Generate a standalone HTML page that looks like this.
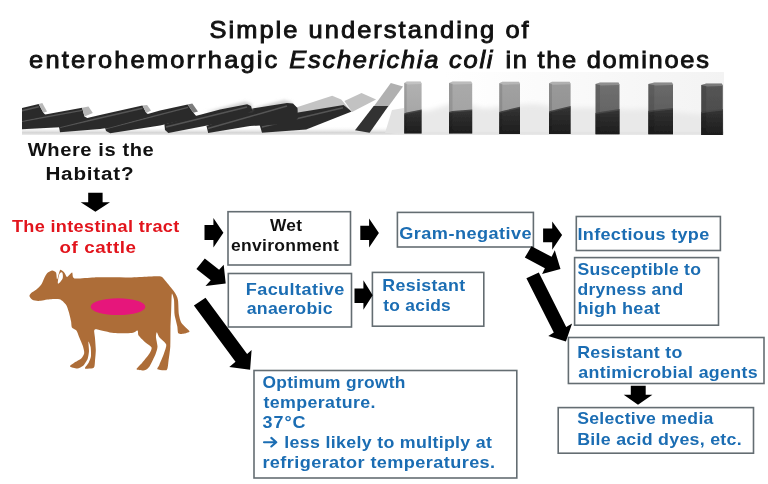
<!DOCTYPE html>
<html><head><meta charset="utf-8">
<style>
html,body{margin:0;padding:0;background:#fff;width:768px;height:484px;overflow:hidden}
svg{position:absolute;left:0;top:0}
text{font-family:"Liberation Sans",sans-serif;font-weight:bold}
svg{will-change:transform}
.bx{fill:#fff;stroke:#646d72;stroke-width:1.6}
</style></head>
<body>
<svg width="768" height="484" viewBox="0 0 768 484">
<defs><clipPath id="pc"><rect x="22" y="70" width="702" height="65"/></clipPath><filter id="bl" x="-5%" y="-20%" width="110%" height="140%"><feGaussianBlur stdDeviation="0.6"/></filter><filter id="bl2" x="-20%" y="-50%" width="140%" height="200%"><feGaussianBlur stdDeviation="1.4"/></filter><filter id="bl3" x="-20%" y="-50%" width="140%" height="200%"><feGaussianBlur stdDeviation="2.5"/></filter><linearGradient id="gnd" x1="0" y1="0" x2="0" y2="1"><stop offset="0" stop-color="#fff" stop-opacity="0"/><stop offset="0.75" stop-color="#d4d4d4"/><stop offset="1" stop-color="#ececec"/></linearGradient></defs>
<g clip-path="url(#pc)">
<linearGradient id="bgg" x1="0" y1="0" x2="1" y2="0"><stop offset="0" stop-color="#fff"/><stop offset="0.6" stop-color="#fff"/><stop offset="1" stop-color="#f3f3f3"/></linearGradient><rect x="22" y="72" width="702" height="63" fill="url(#bgg)"/>
<rect x="22" y="126" width="702" height="9" fill="url(#gnd)" filter="url(#bl)"/>
<g filter="url(#bl3)" fill="#e9e9e9"><path d="M392,134 L395,116 C405,112 418,110 425,111 C435,110 440,106 452,104 C470,102 480,110 490,108 C505,106 520,104 535,104 C545,104 552,108 560,108 C575,108 590,107 600,108 C615,109 630,110 645,109 C660,108 670,112 685,113 C700,114 712,116 724,118 L724,134 Z"/></g>
<g filter="url(#bl)">
<polygon points="293,108.4 332.2,95.8 341.2,99.4 350.1,110 300,115" fill="#c4c4c4"/>
<polygon points="259.6,124.7 298.0,112.4 343.6,105.1 351.7,111.6 306.2,129.5 262.0,132.8" fill="#2b2b2b" />
<line x1="262.0" y1="127.0" x2="343.0" y2="107.8" stroke="#555555" stroke-width="1.4"/>
<polygon points="250,109 284,100 292,102 292,108" fill="#d0d0d0" filter="url(#bl2)"/>
<polygon points="206.5,125.9 252.2,108.5 287.0,103.0 293.0,103.5 297.5,108.0 298.0,118.0 294.0,123.5 250.0,126.0 208.2,133.0" fill="#2b2b2b" />
<line x1="208.0" y1="128.5" x2="287.0" y2="106.0" stroke="#555555" stroke-width="1.4"/>
<polygon points="205,112 245,101.5 252,104 252,110" fill="#d3d3d3" filter="url(#bl2)"/>
<polygon points="164.4,124.2 220.0,109.4 247.2,104.2 251.0,106.0 252.5,111.0 220.0,123.0 168.4,133.0 165.0,130.0" fill="#2b2b2b" />
<line x1="166.0" y1="127.0" x2="247.0" y2="107.0" stroke="#555555" stroke-width="1.4"/>
<polygon points="104.7,126.3 160.0,110.6 187.6,104.6 193.4,112.8 197.0,117.0 160.0,125.5 110.2,133.3 106.0,131.0" fill="#2b2b2b" />
<polygon points="187.6,104.6 192.3,103.4 198.0,111.6 193.4,112.8" fill="#7c7c7c" />
<line x1="106.0" y1="128.6" x2="188.0" y2="107.4" stroke="#555555" stroke-width="1.4"/>
<polygon points="58.6,124.7 100.0,114.9 142.4,105.5 146.3,112.9 151.0,116.0 110.0,127.5 100.0,129.0 60.0,132.2" fill="#2b2b2b" />
<polygon points="142.4,105.5 147.1,105.1 151.0,110.6 146.3,112.9" fill="#b4b4b4" />
<line x1="60.0" y1="127.2" x2="142.5" y2="108.2" stroke="#555555" stroke-width="1.4"/>
<polygon points="22.0,118.7 82.1,107.7 84.5,116.4 90.0,119.5 60.0,127.2 22.0,129.2" fill="#2b2b2b" />
<polygon points="82.1,107.7 88.5,106.6 92.8,112.9 84.5,116.4" fill="#b6b6b6" />
<line x1="22.0" y1="121.4" x2="82.0" y2="110.4" stroke="#555555" stroke-width="1.4"/>
<polygon points="22.0,108.1 38.7,104.1 43.4,112.8 46.0,115.5 22.0,121.0" fill="#2b2b2b" />
<polygon points="38.7,104.1 42.3,103.0 47.0,111.6 43.4,112.8" fill="#b8b8b8" />
<line x1="22.0" y1="110.8" x2="38.8" y2="106.8" stroke="#555555" stroke-width="1.4"/>
</g>
<g filter="url(#bl)"><polygon points="344.4,101.0 361.5,92.9 376.1,99.4 352.0,112.0" fill="#c2c2c2" /><polygon points="373.7,106.5 390.8,83.1 403.0,86.4 388.4,106.5" fill="#b0b0b0" /><polygon points="392.0,110.0 404.0,108.0 404.0,133.0 385.0,133.0" fill="#e2e2e2" /></g>
<g filter="url(#bl)"><polygon points="355.0,130.3 373.7,105.9 388.4,105.9 369.6,132.8" fill="#303030" /></g>
<defs><linearGradient id="ug0" x1="0" y1="0" x2="0" y2="1"><stop offset="0" stop-color="#b2b2b2"/><stop offset="1" stop-color="#9e9e9e"/></linearGradient><linearGradient id="ug1" x1="0" y1="0" x2="0" y2="1"><stop offset="0" stop-color="#aaaaaa"/><stop offset="1" stop-color="#a0a0a0"/></linearGradient><linearGradient id="ug2" x1="0" y1="0" x2="0" y2="1"><stop offset="0" stop-color="#a2a2a2"/><stop offset="1" stop-color="#959595"/></linearGradient><linearGradient id="ug3" x1="0" y1="0" x2="0" y2="1"><stop offset="0" stop-color="#9a9a9a"/><stop offset="1" stop-color="#8e8e8e"/></linearGradient><linearGradient id="ug4" x1="0" y1="0" x2="0" y2="1"><stop offset="0" stop-color="#707070"/><stop offset="1" stop-color="#5c5c5c"/></linearGradient><linearGradient id="ug5" x1="0" y1="0" x2="0" y2="1"><stop offset="0" stop-color="#6a6a6a"/><stop offset="1" stop-color="#565656"/></linearGradient><linearGradient id="ug6" x1="0" y1="0" x2="0" y2="1"><stop offset="0" stop-color="#555555"/><stop offset="1" stop-color="#474747"/></linearGradient><linearGradient id="dk" x1="0" y1="0" x2="0" y2="1"><stop offset="0" stop-color="#343434"/><stop offset="1" stop-color="#1d1d1d"/></linearGradient></defs>
<g filter="url(#bl)">
<polygon points="404.2,83.1 406.7,81.6 420.6,81.6 421.6,83.6 421.6,133.6 404.2,133.6" fill="url(#ug0)" />
<polygon points="404.2,113.6 406.7,112.6 421.6,109.5 421.6,133.6 404.2,133.6" fill="url(#dk)" />
<polygon points="404.2,83.1 406.7,83.6 406.7,133.6 404.2,133.6" fill="#000000" fill-opacity="0.10"/>
<polygon points="404.2,83.1 406.7,81.6 420.6,81.6 421.6,84.1 407.7,84.6" fill="#ffffff" fill-opacity="0.22"/>
<polygon points="404.2,113.6 406.7,112.6 421.6,109.5 421.6,111.0 406.7,114.1 404.2,115.1" fill="#ffffff" fill-opacity="0.10"/>
<polygon points="449.0,83.1 452.5,81.6 471.2,81.6 472.2,83.6 472.2,133.6 449.0,133.6" fill="url(#ug1)" />
<polygon points="449.0,112.0 452.5,111.0 472.2,109.5 472.2,133.6 449.0,133.6" fill="url(#dk)" />
<polygon points="449.0,83.1 452.5,83.6 452.5,133.6 449.0,133.6" fill="#000000" fill-opacity="0.10"/>
<polygon points="449.0,83.1 452.5,81.6 471.2,81.6 472.2,84.1 453.5,84.6" fill="#ffffff" fill-opacity="0.22"/>
<polygon points="449.0,112.0 452.5,111.0 472.2,109.5 472.2,111.0 452.5,112.5 449.0,113.5" fill="#ffffff" fill-opacity="0.10"/>
<polygon points="499.2,83.2 502.2,81.7 519.0,81.7 520.0,83.7 520.0,134.0 499.2,134.0" fill="url(#ug2)" />
<polygon points="499.2,112.0 502.2,111.0 520.0,106.7 520.0,134.0 499.2,134.0" fill="url(#dk)" />
<polygon points="499.2,83.2 502.2,83.7 502.2,134.0 499.2,134.0" fill="#000000" fill-opacity="0.10"/>
<polygon points="499.2,83.2 502.2,81.7 519.0,81.7 520.0,84.2 503.2,84.7" fill="#ffffff" fill-opacity="0.22"/>
<polygon points="499.2,112.0 502.2,111.0 520.0,106.7 520.0,108.2 502.2,112.5 499.2,113.5" fill="#ffffff" fill-opacity="0.10"/>
<polygon points="549.0,83.2 552.0,81.7 569.6,81.7 570.6,83.7 570.6,134.0 549.0,134.0" fill="url(#ug3)" />
<polygon points="549.0,111.6 552.0,110.6 570.6,106.0 570.6,134.0 549.0,134.0" fill="url(#dk)" />
<polygon points="549.0,83.2 552.0,83.7 552.0,134.0 549.0,134.0" fill="#000000" fill-opacity="0.10"/>
<polygon points="549.0,83.2 552.0,81.7 569.6,81.7 570.6,84.2 553.0,84.7" fill="#ffffff" fill-opacity="0.22"/>
<polygon points="549.0,111.6 552.0,110.6 570.6,106.0 570.6,107.5 552.0,112.1 549.0,113.1" fill="#ffffff" fill-opacity="0.10"/>
<polygon points="595.5,84.0 600.0,82.5 618.5,82.5 619.5,84.5 619.5,134.2 595.5,134.2" fill="url(#ug4)" />
<polygon points="595.5,113.0 600.0,112.0 619.5,109.0 619.5,134.2 595.5,134.2" fill="url(#dk)" />
<polygon points="595.5,84.0 600.0,84.5 600.0,134.2 595.5,134.2" fill="#000000" fill-opacity="0.10"/>
<polygon points="595.5,84.0 600.0,82.5 618.5,82.5 619.5,85.0 601.0,85.5" fill="#ffffff" fill-opacity="0.22"/>
<polygon points="595.5,113.0 600.0,112.0 619.5,109.0 619.5,110.5 600.0,113.5 595.5,114.5" fill="#ffffff" fill-opacity="0.10"/>
<polygon points="648.3,84.0 654.3,82.5 672.0,82.5 673.0,84.5 673.0,134.2 648.3,134.2" fill="url(#ug5)" />
<polygon points="648.3,111.0 654.3,110.0 673.0,108.0 673.0,134.2 648.3,134.2" fill="url(#dk)" />
<polygon points="648.3,84.0 654.3,84.5 654.3,134.2 648.3,134.2" fill="#000000" fill-opacity="0.10"/>
<polygon points="648.3,84.0 654.3,82.5 672.0,82.5 673.0,85.0 655.3,85.5" fill="#ffffff" fill-opacity="0.22"/>
<polygon points="648.3,111.0 654.3,110.0 673.0,108.0 673.0,109.5 654.3,111.5 648.3,112.5" fill="#ffffff" fill-opacity="0.10"/>
<polygon points="701.2,85.0 706.2,83.5 721.8,83.5 722.8,85.5 722.8,135.0 701.2,135.0" fill="url(#ug6)" />
<polygon points="701.2,112.0 706.2,111.0 722.8,109.0 722.8,135.0 701.2,135.0" fill="url(#dk)" />
<polygon points="701.2,85.0 706.2,85.5 706.2,135.0 701.2,135.0" fill="#000000" fill-opacity="0.10"/>
<polygon points="701.2,85.0 706.2,83.5 721.8,83.5 722.8,86.0 707.2,86.5" fill="#ffffff" fill-opacity="0.22"/>
<polygon points="701.2,112.0 706.2,111.0 722.8,109.0 722.8,110.5 706.2,112.5 701.2,113.5" fill="#ffffff" fill-opacity="0.10"/>
</g>
</g>
<rect class="bx" x="228" y="211.7" width="122.5" height="53.3"/><rect class="bx" x="228.3" y="273.5" width="123.2" height="53.5"/><rect class="bx" x="372.4" y="272.4" width="111.4" height="53.8"/><rect class="bx" x="397.4" y="212.4" width="136.0" height="34.6"/><rect class="bx" x="576.3" y="216.5" width="144.1" height="34.0"/><rect class="bx" x="574.6" y="257.6" width="143.9" height="67.6"/><rect class="bx" x="568.4" y="337.5" width="195.6" height="46.0"/><rect class="bx" x="558.2" y="407.6" width="195.3" height="45.6"/><rect class="bx" x="254" y="370.5" width="262.8" height="107.5"/>
<g fill="#000"><polygon points="88.2,192.8 102.6,192.8 102.6,202.3 110,202.3 95.4,211.7 80.7,202.3 88.2,202.3"/>
<polygon points="204.5,225.1 213.4,225.1 213.4,217.9 223.4,232.7 213.4,247.4 213.4,240.1 204.5,240.1"/>
<polygon points="360.3,225.7 369.1,225.7 369.1,218.4 378.9,232.9 369.1,247.4 369.1,240.1 360.3,240.1"/>
<polygon points="543.1,228.5 552.2,228.5 552.2,221.6 562.1,235.1 552.2,249.7 552.2,242.2 543.1,242.2"/>
<polygon points="354.5,288.4 363.4,288.4 363.4,280.3 372.7,295.3 363.4,309.8 363.4,302.9 354.5,302.9"/>
<polygon points="630.8,385.8 645.7,385.8 645.7,394.8 652.4,394.8 638,404.8 623.7,394.8 630.8,394.8"/><polygon points="204.8,258.6 219.1,269.8 223.7,264.8 225.7,283.6 205.5,286.1 210.7,280.3 196.4,269.1"/><polygon points="531.5,246.2 551.6,256.8 554.8,250.3 560.5,268.9 542.1,274.1 544.9,268.2 524.8,257.6"/><polygon points="538.8,272.5 566.2,326.9 572.1,323.5 565.9,341.4 548.3,335.9 553.8,332.6 526.4,278.2"/><polygon points="205.5,297.7 247.1,353.9 251.6,350.1 250.1,369.7 229.3,366.9 235.5,361.7 193.9,305.5"/></g>
<path fill="#ad6d38" d="M29.4,296.0 C29.5,296.8 31.3,299.1 32.4,299.7 C33.5,300.3 36.6,301.0 38.6,300.9 C40.6,300.8 47.3,299.4 49.8,299.2 C52.3,299.0 57.8,298.6 59.7,299.2 C61.6,299.8 64.8,303.1 65.9,304.6 C67.0,306.1 68.2,310.1 68.8,312.0 C69.4,313.9 70.6,319.2 71.0,321.0 C71.4,322.8 71.3,326.4 71.9,327.5 C72.5,328.6 75.5,329.4 76.4,330.5 C77.3,331.6 78.4,335.4 79.2,337.3 C80.0,339.2 82.4,344.6 83.0,346.5 C83.6,348.4 84.4,351.8 84.2,353.2 C84.0,354.6 82.3,357.5 81.2,358.6 C80.1,359.7 75.8,361.7 74.5,362.6 C73.2,363.5 69.7,365.8 70.0,366.5 C70.3,367.2 75.8,368.6 77.3,368.5 C78.8,368.4 82.0,366.9 83.2,365.8 C84.4,364.7 86.9,360.7 87.6,359.0 C88.3,357.3 88.9,353.0 89.0,351.0 C89.1,349.0 88.2,342.0 88.4,341.5 C88.6,341.0 90.3,345.3 90.6,347.0 C90.9,348.7 91.2,354.1 91.0,356.0 C90.8,357.9 89.2,361.6 88.5,363.0 C87.8,364.4 84.4,367.8 85.0,368.4 C85.6,369.0 92.5,368.7 93.7,367.8 C94.9,366.9 94.8,363.1 95.0,361.0 C95.2,358.9 95.8,352.9 95.8,350.1 C95.8,347.3 95.1,339.6 94.9,337.3 C94.7,335.0 93.9,331.4 94.2,330.5 C94.5,329.6 95.1,329.1 97.4,329.4 C99.7,329.7 109.8,332.6 113.8,333.0 C117.8,333.4 129.2,333.3 132.0,333.0 C134.8,332.7 136.7,330.2 137.5,330.5 C138.3,330.8 137.7,334.2 138.6,335.5 C139.5,336.8 143.3,340.5 144.8,341.9 C146.3,343.3 151.1,346.0 151.6,347.4 C152.1,348.8 150.4,351.9 149.3,353.7 C148.2,355.5 143.5,361.1 142.0,362.9 C140.5,364.7 136.3,368.3 136.6,369.2 C136.9,370.1 143.3,370.6 144.8,370.3 C146.3,370.0 148.2,368.4 149.5,366.5 C150.8,364.6 154.8,356.0 155.7,353.7 C156.6,351.4 157.5,348.4 157.5,346.5 C157.5,344.6 156.1,339.0 156.0,337.3 C155.9,335.6 156.4,332.2 156.8,332.2 C157.2,332.2 158.3,335.9 159.4,337.3 C160.5,338.7 165.7,342.7 166.2,344.6 C166.7,346.5 164.7,351.4 163.9,353.7 C163.1,356.0 160.1,362.9 159.4,364.7 C158.7,366.5 156.6,368.7 157.5,369.3 C158.4,369.9 165.4,370.9 166.7,369.9 C168.0,368.9 168.1,363.7 168.5,361.0 C168.9,358.3 170.1,350.3 170.3,346.5 C170.5,342.7 170.4,332.5 170.5,328.2 C170.6,323.9 171.1,313.3 171.2,310.0 C171.3,306.7 171.4,301.9 171.5,300.0 C171.6,298.1 171.7,293.5 172.0,293.5 C172.3,293.5 173.7,297.6 174.0,300.0 C174.3,302.4 174.3,311.6 174.5,314.0 C174.7,316.4 175.7,319.5 176.0,321.0 C176.3,322.5 177.0,325.1 177.3,326.5 C177.6,327.9 177.6,332.3 178.3,333.2 C179.0,334.1 182.2,334.0 183.5,333.8 C184.8,333.6 189.4,332.4 189.6,331.6 C189.8,330.8 186.5,328.4 185.5,327.3 C184.5,326.2 182.0,324.0 181.2,322.5 C180.4,321.0 179.3,317.0 178.9,314.5 C178.5,312.0 178.4,303.3 178.1,301.0 C177.8,298.7 176.9,296.3 176.2,295.0 C175.5,293.7 173.7,291.1 172.5,289.5 C171.3,287.9 167.3,283.0 166.0,281.5 C164.7,280.0 162.9,277.1 161.0,276.5 C159.1,275.9 153.4,276.4 150.0,276.5 C146.6,276.6 138.1,277.3 131.6,277.4 C125.1,277.5 101.1,277.3 94.4,277.4 C87.7,277.5 77.1,279.0 74.5,278.4 C71.9,277.8 73.0,272.6 72.1,272.4 C71.2,272.2 68.0,276.8 67.1,276.9 C66.2,277.0 65.4,273.7 64.6,272.9 C63.8,272.1 61.1,269.2 60.2,269.9 C59.3,270.6 57.7,279.0 57.2,279.3 C56.7,279.6 56.6,273.4 56.0,272.4 C55.4,271.4 53.2,270.3 52.2,270.4 C51.2,270.5 48.2,272.0 47.3,272.9 C46.4,273.8 45.0,276.5 44.3,277.9 C43.6,279.3 42.1,283.4 41.1,284.8 C40.1,286.2 37.3,288.8 36.1,289.8 C34.9,290.7 32.0,292.2 31.2,292.9 C30.4,293.6 29.3,295.2 29.4,296.0 Z"/>
<path fill="#fff" d="M58.0,283.6 C57.4,282.9 58.5,276.3 59.2,274.4 C59.9,272.5 61.6,271.7 62.2,272.4 C62.8,273.1 63.3,276.7 62.6,278.6 C61.9,280.5 58.6,284.3 58.0,283.6 Z"/>
<ellipse cx="118" cy="306.7" rx="27.3" ry="8.4" fill="#e6167b"/>

<text transform="translate(209.50,37.8) scale(1.0600,1)" font-size="24" letter-spacing="1.926" fill="#111111" style="font-weight:normal" stroke="#111111" stroke-width="0.9">Simple understanding of</text>
<text transform="translate(29.10,68) scale(1.0600,1)" font-size="24" letter-spacing="2.052" fill="#111111" style="font-weight:normal" stroke="#111111" stroke-width="0.9">enterohemorrhagic</text>
<text transform="translate(289.20,68) scale(1.0600,1)" font-size="24" letter-spacing="1.675" fill="#111111" font-style="italic" style="font-weight:normal" stroke="#111111" stroke-width="0.9">Escherichia coli</text>
<text transform="translate(505.40,68) scale(1.0600,1)" font-size="24" letter-spacing="1.612" fill="#111111" style="font-weight:normal" stroke="#111111" stroke-width="0.9">in the dominoes</text>
<text transform="translate(27.70,156.2) scale(1.1516,1)" font-size="17.5" letter-spacing="0.497" fill="#111111">Where is the</text>
<text transform="translate(45.40,179.6) scale(1.1812,1)" font-size="17.5" letter-spacing="0.663" fill="#111111">Habitat?</text>
<text transform="translate(11.90,232.3) scale(1.0981,1)" font-size="16.5" letter-spacing="0.306" fill="#e2141c">The intestinal tract</text>
<text transform="translate(59.60,252.8) scale(1.1389,1)" font-size="16.5" letter-spacing="0.471" fill="#e2141c">of cattle</text>
<text transform="translate(269.90,230.6) scale(1.0490,1)" font-size="16.5" letter-spacing="0.396" fill="#111111">Wet</text>
<text transform="translate(231.10,251) scale(1.0614,1)" font-size="16.5" letter-spacing="0.262" fill="#111111">environment</text>
<text transform="translate(245.70,294.5) scale(1.0972,1)" font-size="16.5" letter-spacing="0.377" fill="#1b6db3">Facultative</text>
<text transform="translate(246.70,314.3) scale(1.0755,1)" font-size="16.5" letter-spacing="0.243" fill="#1b6db3">anaerobic</text>
<text transform="translate(382.30,291.4) scale(1.0786,1)" font-size="16.5" letter-spacing="0.331" fill="#1b6db3">Resistant</text>
<text transform="translate(383.30,311.4) scale(1.0531,1)" font-size="16.5" letter-spacing="0.246" fill="#1b6db3">to acids</text>
<text transform="translate(399.30,238.6) scale(1.0995,1)" font-size="16.5" letter-spacing="0.399" fill="#1b6db3">Gram-negative</text>
<text transform="translate(577.50,240) scale(1.0937,1)" font-size="16.5" letter-spacing="0.289" fill="#1b6db3">Infectious type</text>
<text transform="translate(577.50,274.9) scale(1.0687,1)" font-size="16.5" letter-spacing="0.221" fill="#1b6db3">Susceptible to</text>
<text transform="translate(577.50,294.9) scale(1.0626,1)" font-size="16.5" letter-spacing="0.240" fill="#1b6db3">dryness and</text>
<text transform="translate(577.50,314.4) scale(1.0943,1)" font-size="16.5" letter-spacing="0.264" fill="#1b6db3">high heat</text>
<text transform="translate(577.20,357.8) scale(1.0798,1)" font-size="16.5" letter-spacing="0.285" fill="#1b6db3">Resistant to</text>
<text transform="translate(578.20,377.6) scale(1.0805,1)" font-size="16.5" letter-spacing="0.308" fill="#1b6db3">antimicrobial agents</text>
<text transform="translate(577.20,424.4) scale(1.0672,1)" font-size="16.5" letter-spacing="0.277" fill="#1b6db3">Selective media</text>
<text transform="translate(577.20,444.5) scale(1.0796,1)" font-size="16.5" letter-spacing="0.253" fill="#1b6db3">Bile acid dyes, etc.</text>
<text transform="translate(262.40,387.8) scale(1.0850,1)" font-size="16" letter-spacing="0.297" fill="#1b6db3">Optimum growth</text>
<text transform="translate(263.40,407.5) scale(1.1123,1)" font-size="16" letter-spacing="0.361" fill="#1b6db3">temperature.</text>
<text transform="translate(262.40,427.5) scale(1.1220,1)" font-size="16" letter-spacing="0.900" fill="#1b6db3">37°C</text>
<text transform="translate(284.30,447.6) scale(1.1129,1)" font-size="16" letter-spacing="0.288" fill="#1b6db3">less likely to multiply at</text>
<text transform="translate(262.40,468) scale(1.1335,1)" font-size="16" letter-spacing="0.356" fill="#1b6db3">refrigerator temperatures.</text>

<path d="M264,442.2 H276.2 M271.3,437.9 L276.3,442.2 L271.3,446.5" fill="none" stroke="#1b6db3" stroke-width="2.1" stroke-linecap="round" stroke-linejoin="round"/>
</svg>
</body></html>
